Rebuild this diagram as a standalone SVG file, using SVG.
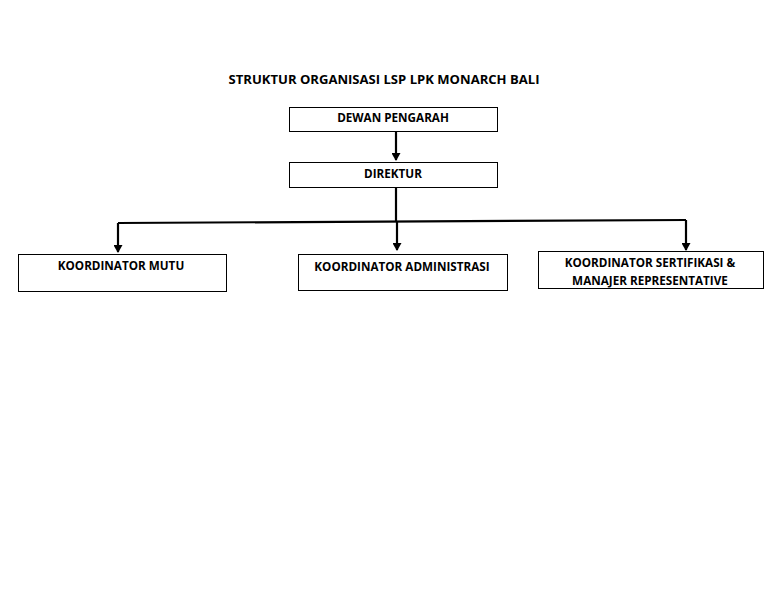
<svg xmlns="http://www.w3.org/2000/svg" width="768" height="594" viewBox="0 0 768 594">
<defs>
<style>
.box{fill:#fff;stroke:#000;stroke-width:1}
.t{font-family:"Open Sans","Liberation Sans",sans-serif;font-weight:bold;font-size:11.7px;fill:#000;text-anchor:middle}
.title{font-family:"Open Sans","Liberation Sans",sans-serif;font-weight:bold;font-size:13px;fill:#000;text-anchor:middle}
.c{fill:none;stroke:#000;stroke-width:2.2}
</style>
<marker id="ah" markerWidth="9" markerHeight="9" refX="7" refY="4.5" orient="auto" markerUnits="userSpaceOnUse">
<path d="M0,0 L8,4.5 L0,9 Z" fill="#000"/>
</marker>
</defs>
<rect width="768" height="594" fill="#fff"/>
<text class="title" x="384" y="84" textLength="311" lengthAdjust="spacingAndGlyphs">STRUKTUR ORGANISASI LSP LPK MONARCH BALI</text>
<g id="connectors">
<path class="c" d="M396,131 V160" marker-end="url(#ah)"/>
<path class="c" d="M396,187 V222"/>
<path class="c" d="M118,223 L686,220"/>
<path class="c" d="M118,223 V252" marker-end="url(#ah)"/>
<path class="c" d="M397,222 V250" marker-end="url(#ah)"/>
<path class="c" d="M686,220 V250" marker-end="url(#ah)"/>
</g>
<g id="dewan">
<rect class="box" x="289.5" y="107.5" width="208" height="24"/>
<text class="t" x="393" y="122">DEWAN PENGARAH</text>
</g>
<g id="direktur">
<rect class="box" x="289.5" y="162.5" width="208" height="25"/>
<text class="t" x="393" y="178">DIREKTUR</text>
</g>
<g id="mutu">
<rect class="box" x="18.5" y="254.5" width="208" height="37"/>
<text class="t" x="121" y="270">KOORDINATOR MUTU</text>
</g>
<g id="administrasi">
<rect class="box" x="298.5" y="254.5" width="209" height="36"/>
<text class="t" x="402" y="271">KOORDINATOR ADMINISTRASI</text>
</g>
<g id="sertifikasi">
<rect class="box" x="538.5" y="251.5" width="225" height="37"/>
<text class="t" x="650" y="267">KOORDINATOR SERTIFIKASI &amp;</text>
<text class="t" x="650" y="285">MANAJER REPRESENTATIVE</text>
</g>
</svg>
